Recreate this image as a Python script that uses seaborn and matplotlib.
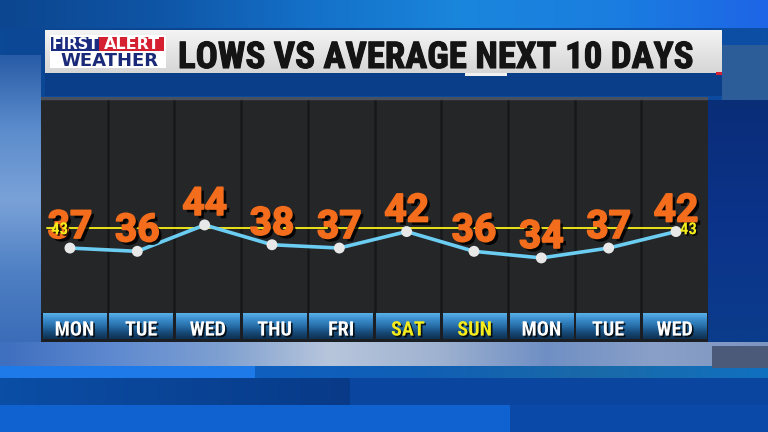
import matplotlib
matplotlib.use("Agg")
import matplotlib.pyplot as plt
import matplotlib.patheffects as pe
from matplotlib.patches import Rectangle
from matplotlib import font_manager
import numpy as np
import pandas as pd
import seaborn as sns

# ---------------- data ----------------
days = ["MON", "TUE", "WED", "THU", "FRI", "SAT", "SUN", "MON", "TUE", "WED"]
lows = [37, 36, 44, 38, 37, 42, 36, 34, 37, 42]
average = 43
weekend = ["SAT", "SUN"]
title = "LOWS VS AVERAGE NEXT 10 DAYS"
logo_top = ["FIRST", "ALERT"]
logo_bottom = "WEATHER"

df = pd.DataFrame({"idx": np.arange(len(days)), "day": days, "low": lows})

sns.set_theme(style="dark")
names = {f.name for f in font_manager.fontManager.ttflist}
def pick(*cands):
    for c in cands:
        if c in names:
            return c
    return "DejaVu Sans"
narrow = pick("Liberation Sans Narrow", "Roboto Condensed", "Open Sans Condensed", "Roboto", "Liberation Sans")
plain = pick("Roboto", "Liberation Sans", "DejaVu Sans")
plt.rcParams["font.family"] = [narrow, "DejaVu Sans"]

W, H = 768, 432
fig = plt.figure(figsize=(W / 100, H / 100), dpi=100)

def fx(px):
    return px / W

def fy(py):
    return 1 - py / H

# ---------------- background ----------------
bg = fig.add_axes([0, 0, 1, 1], zorder=0)
bg.set_axis_off()

def rect(x0, y0, x1, y1, color, z=1, **kw):
    bg.add_patch(Rectangle((x0, y0), x1 - x0, y1 - y0, facecolor=color, lw=0, zorder=z, **kw))

def grad(x0, y0, x1, y1, colors, vertical=False, z=1, axis=None):
    a = bg if axis is None else axis
    n = 64
    stops = np.linspace(0, 1, len(colors))
    t = np.linspace(0, 1, n)
    cols = np.array([matplotlib.colors.to_rgb(c) for c in colors])
    arr = np.stack([np.interp(t, stops, cols[:, i]) for i in range(3)], axis=-1)
    arr = arr[:, None, :] if vertical else arr[None, :, :]
    a.imshow(arr, extent=(x0, x1, y1, y0) if axis is None else (x0, x1, y0, y1),
             aspect="auto", interpolation="bilinear", zorder=z)

rect(0, 0, W, H, "#0b4a9e", z=0)
grad(0, 0, W, 28, ["#0c4690", "#0f55a6", "#1470c8", "#1a86dc", "#1a7ee0", "#1e66e6"])
grad(0, 28, W, 96, ["#0b4896", "#0b4590", "#0c4a9a", "#0d4fa5"])
rect(45, 73, 722, 96, "#0a3e88", z=2)
rect(722, 45, W, 100, "#2d5d98", z=2)
grad(708, 100, W, 345, ["#0a2d78", "#0b338a", "#0b3c8c"], vertical=True, z=2)
grad(0, 55, 41, 345, ["#2a5da8", "#5b8ccc", "#7aa2d8", "#4f80c4", "#3a6cb8"], vertical=True, z=2)
grad(0, 342, W, 366, ["#3f6fbf", "#5f8ad0", "#7fa0d0", "#b8c6dc", "#9fb2d0",
                       "#6f8fc4", "#8aa0c8", "#7d96c0"], z=2)
rect(712, 346, W, 368, "#4a5a78", z=3)
rect(0, 366, 255, 378, "#1e7ae8", z=2)
grad(255, 366, W, 378, ["#0f5fc0", "#105fb5", "#1a6aa8", "#1070c0"], z=2)
grad(0, 378, 350, 405, ["#0b4ea6", "#083a88"], z=2)
rect(350, 378, W, 405, "#0a45a0", z=2)
rect(0, 405, 510, H, "#0f62d0", z=2)
rect(510, 405, W, H, "#0a49a8", z=2)

# banner
grad(45, 30, 722, 73, ["#f4f4f4", "#e4e4e4", "#d6d6d6"], vertical=True, z=4)
rect(465, 73, 507, 76, "#f0f0f0", z=4)
rect(716, 72, 722, 75, "#d42030", z=4)
# logo
rect(50, 35, 166, 68, "#ffffff", z=5)
rect(51, 37, 99, 51, "#1b2b80", z=6)
rect(99, 37, 164, 51, "#d42030", z=6)
bg.set_xlim(0, W)
bg.set_ylim(H, 0)

fig.text(fx(75), fy(49), logo_top[0], ha="center", va="baseline", color="white",
         fontsize=10.5, weight="bold", family=["DejaVu Sans"], zorder=10)
fig.text(fx(131.5), fy(49), logo_top[1], ha="center", va="baseline", color="white",
         fontsize=11.5, weight="bold", family=["DejaVu Sans"], zorder=10)
fig.text(fx(109), fy(65.5), logo_bottom, ha="center", va="baseline", color="#1b2a78",
         fontsize=13, weight="bold", family=["DejaVu Sans"], zorder=10)

t = fig.text(fx(178), fy(68), title, ha="left", va="baseline", color="#141414",
             fontsize=30, weight="bold", zorder=10,
             path_effects=[pe.Stroke(linewidth=0.8, foreground="#141414"), pe.Normal()])
fig.canvas.draw()
w = t.get_window_extent().width
t.set_fontsize(30 * 515 / w)

# ---------------- main chart ----------------
ax = fig.add_axes([fx(41), fy(313), fx(708) - fx(41), (313 - 97) / H], zorder=3)
ax.set_facecolor("#252628")
for k in range(1, 10):
    ax.plot([k / 10, k / 10], [0, 1], transform=ax.transAxes, color="#17181a", lw=1.8, zorder=1)
ax.plot([0, 1], [0.995, 0.995], transform=ax.transAxes, color="#4a505c", lw=2.5, zorder=1)

ax.plot([-0.34, len(days) - 1], [average, average], color="#ece418", lw=1.4, zorder=2)
sns.lineplot(data=df, x="idx", y="low", ax=ax, color="#6ccdf2", lw=2.6, zorder=3)
sns.scatterplot(data=df, x="idx", y="low", ax=ax, color="#e8e8e8", s=62,
                edgecolor="none", zorder=4)

orange = "#f46d1c"
shadow = [pe.SimplePatchShadow(offset=(2.4, -2.4), shadow_rgbFace="black", alpha=0.85),
          pe.Stroke(linewidth=1.2, foreground=orange), pe.Normal()]
for i, v in zip(df["idx"], df["low"]):
    ax.annotate(str(v), (i, v), xytext=(0, 10), textcoords="offset pixels", ha="center",
                va="baseline", fontsize=28, weight="bold", color=orange,
                family=[plain, "DejaVu Sans"], path_effects=shadow, zorder=6)

small_shadow = [pe.SimplePatchShadow(offset=(1.2, -1.2), shadow_rgbFace="black", alpha=0.8), pe.Normal()]
ax.annotate(str(average), (0, average), xytext=(-2, -6), textcoords="offset pixels",
            ha="right", va="baseline", fontsize=12, weight="bold", color="#f5ee1a",
            path_effects=small_shadow, zorder=7)
ax.annotate(str(average), (len(days) - 1, average), xytext=(4, -6), textcoords="offset pixels",
            ha="left", va="baseline", fontsize=12, weight="bold", color="#f5ee1a",
            path_effects=small_shadow, zorder=7)

ax.set_xlim(-0.43, 9.475)
ax.set_ylim(17.3, 82.8)
ax.set_xticks([])
ax.set_yticks([])
ax.set_xlabel("")
ax.set_ylabel("")
for s in ax.spines.values():
    s.set_visible(False)

# ---------------- day label bar ----------------
lab = fig.add_axes([fx(41), fy(342), fx(708) - fx(41), 29 / H], zorder=3)
lab.set_facecolor("#1b1e23")
for k, d in enumerate(days):
    grad(k + 0.025, 0.1, k + 0.975, 0.97, ["#5ab0e8", "#3a8ccc", "#276ea8", "#174a78", "#0f3050"],
         vertical=True, z=1, axis=lab)
    lab.text(k + 0.5, 0.22, d, ha="center", va="baseline", fontsize=14.5, weight="bold",
             color="#f4ec1c" if d in weekend else "white", path_effects=small_shadow, zorder=3)
lab.set_xlim(0, len(days))
lab.set_ylim(0, 1)
lab.set_xticks([])
lab.set_yticks([])
for s in lab.spines.values():
    s.set_visible(False)

fig.savefig("out.png", dpi=100)
